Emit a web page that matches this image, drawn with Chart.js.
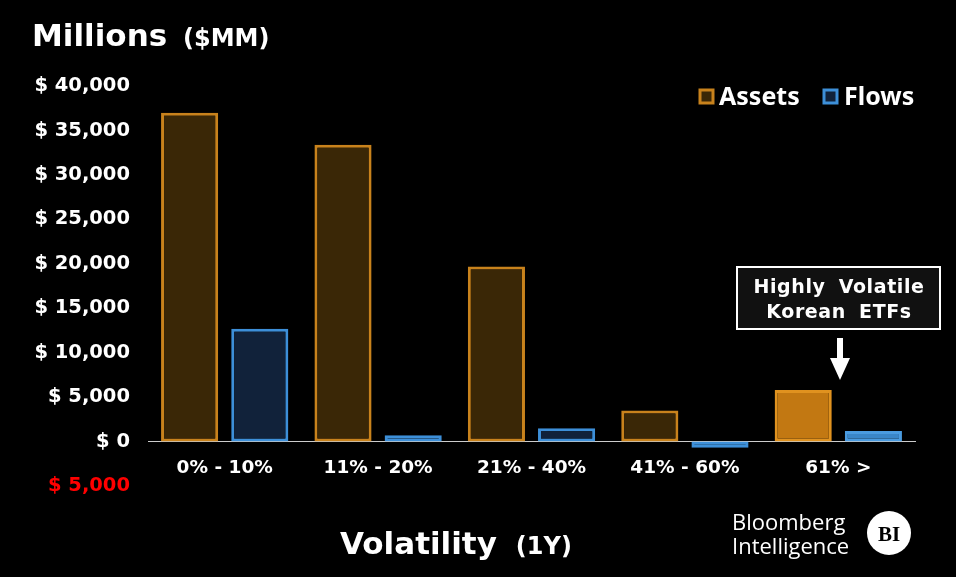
<!DOCTYPE html>
<html>
<head>
<meta charset="utf-8">
<script src="https://cdn.jsdelivr.net/npm/chart.js@4.4.1/dist/chart.umd.min.js"></script>
<style>
  html, body { margin: 0; padding: 0; background: #000; }
  #wrap { width: 956px; height: 577px; position: relative; }
</style>
</head>
<body>
<div id="wrap"><canvas id="chart"></canvas></div>
<script>
// Data
const categories = ['0% - 10%', '11% - 20%', '21% - 40%', '41% - 60%', '61% >'];
const assets = [37000, 33400, 19700, 3500, 5800];
const flows = [12700, 700, 1500, -700, 1200];
const yTicks = [-5000, 0, 5000, 10000, 15000, 20000, 25000, 30000, 35000, 40000];

const FONT = '"DejaVu Sans", Verdana, sans-serif';

// Extra drawing: titles, legend, callout, logo
const extras = {
    id: 'extras',
    afterDraw(chart) {
        const ctx = chart.ctx;
        ctx.save();
        ctx.textBaseline = 'alphabetic';
        ctx.fillStyle = '#fff';

        // Top title
        ctx.textAlign = 'left';
        ctx.font = 'bold 31px ' + FONT;
        ctx.fillText('Millions', 32, 46);
        ctx.font = 'bold 24px ' + FONT;
        ctx.fillText('($MM)', 183, 46);

        // Bottom title
        ctx.font = 'bold 31px ' + FONT;
        const t1 = 'Volatility';
        const w1 = ctx.measureText(t1).width;
        ctx.fillText(t1, 340, 554);
        ctx.font = 'bold 24px ' + FONT;
        ctx.fillText('(1Y)', 340 + w1 + 19, 554);

        // Legend
        ctx.lineWidth = 3;
        ctx.fillStyle = '#3a2706';
        ctx.strokeStyle = '#c8821c';
        ctx.fillRect(700, 90, 13, 13);
        ctx.strokeRect(700, 90, 13, 13);
        ctx.fillStyle = '#11223a';
        ctx.strokeStyle = '#3d8fd8';
        ctx.fillRect(824, 90, 13, 13);
        ctx.strokeRect(824, 90, 13, 13);
        ctx.fillStyle = '#fff';
        ctx.font = 'bold 25px "Noto Sans", sans-serif';
        ctx.fillText('Assets', 719, 105);
        ctx.fillText('Flows', 844, 105);

        // Callout box
        ctx.fillStyle = '#111';
        ctx.fillRect(737, 267, 203, 62);
        ctx.strokeStyle = '#fff';
        ctx.lineWidth = 2;
        ctx.strokeRect(737, 267, 203, 62);
        ctx.fillStyle = '#fff';
        ctx.textAlign = 'center';
        ctx.font = 'bold 19px ' + FONT;
        ctx.letterSpacing = '0.6px';
        ctx.wordSpacing = '6px';
        ctx.fillText('Highly Volatile', 839, 293);
        ctx.fillText('Korean ETFs', 839, 318);
        ctx.letterSpacing = '0px';
        ctx.wordSpacing = '0px';

        // Arrow
        ctx.fillRect(837, 338, 6, 22);
        ctx.beginPath();
        ctx.moveTo(830, 358);
        ctx.lineTo(850, 358);
        ctx.lineTo(840, 380);
        ctx.closePath();
        ctx.fill();

        // Logo
        ctx.textAlign = 'left';
        ctx.font = '22px "Open Sans", sans-serif';
        ctx.fillText('Bloomberg', 732, 530);
        ctx.fillText('Intelligence', 732, 554);
        ctx.beginPath();
        ctx.arc(889, 533, 22, 0, Math.PI * 2);
        ctx.fill();
        ctx.fillStyle = '#000';
        ctx.textAlign = 'center';
        ctx.font = 'bold 21px "Liberation Serif", serif';
        ctx.fillText('BI', 889, 541);

        ctx.restore();
    }
};

const ctx = document.getElementById('chart').getContext('2d');
const chart = new Chart(ctx, {
    type: 'bar',
    data: {
        labels: categories,
        datasets: [
            {
                label: 'Assets',
                data: assets,
                backgroundColor: ['#3a2706', '#3a2706', '#3a2706', '#3a2706', '#c27812'],
                borderColor: ['#c8821c', '#c8821c', '#c8821c', '#c8821c', '#e0921f'],
                borderWidth: 3,
                borderSkipped: false,
                categoryPercentage: 0.915,
                barPercentage: 0.814
            },
            {
                label: 'Flows',
                data: flows,
                backgroundColor: ['#11223a', '#11223a', '#11223a', '#3a86c8', '#3a86c8'],
                borderColor: ['#3d8fd8', '#3d8fd8', '#3d8fd8', '#3d8fd8', '#4a9be0'],
                borderWidth: 3,
                borderSkipped: false,
                categoryPercentage: 0.915,
                barPercentage: 0.814
            }
        ]
    },
    options: {
        responsive: true,
        maintainAspectRatio: false,
        animation: false,
        layout: {
            padding: { top: 86, right: 41, bottom: 91, left: 0 }
        },
        plugins: {
            legend: { display: false },
            tooltip: { enabled: false }
        },
        scales: {
            x: {
                position: { y: 0 },
                grid: { display: false },
                border: { display: true, color: '#cccccc', width: 1 },
                ticks: {
                    color: '#fff',
                    padding: 8,
                    font: { family: FONT, size: 18.5, weight: 'bold' }
                }
            },
            y: {
                min: -5000,
                max: 40000,
                afterFit(scale) { scale.width = 148; },
                afterBuildTicks(scale) {
                    scale.ticks = yTicks.map(v => ({ value: v }));
                },
                grid: { display: false, drawTicks: false },
                border: { display: false },
                ticks: {
                    padding: 18,
                    color: c => (c.tick && c.tick.value < 0 ? '#ff0000' : '#fff'),
                    font: { family: FONT, size: 19.5, weight: 'bold' },
                    callback: v => '$ ' + Math.abs(v).toLocaleString('en-US')
                }
            }
        }
    },
    plugins: [extras]
});
</script>
</body>
</html>
